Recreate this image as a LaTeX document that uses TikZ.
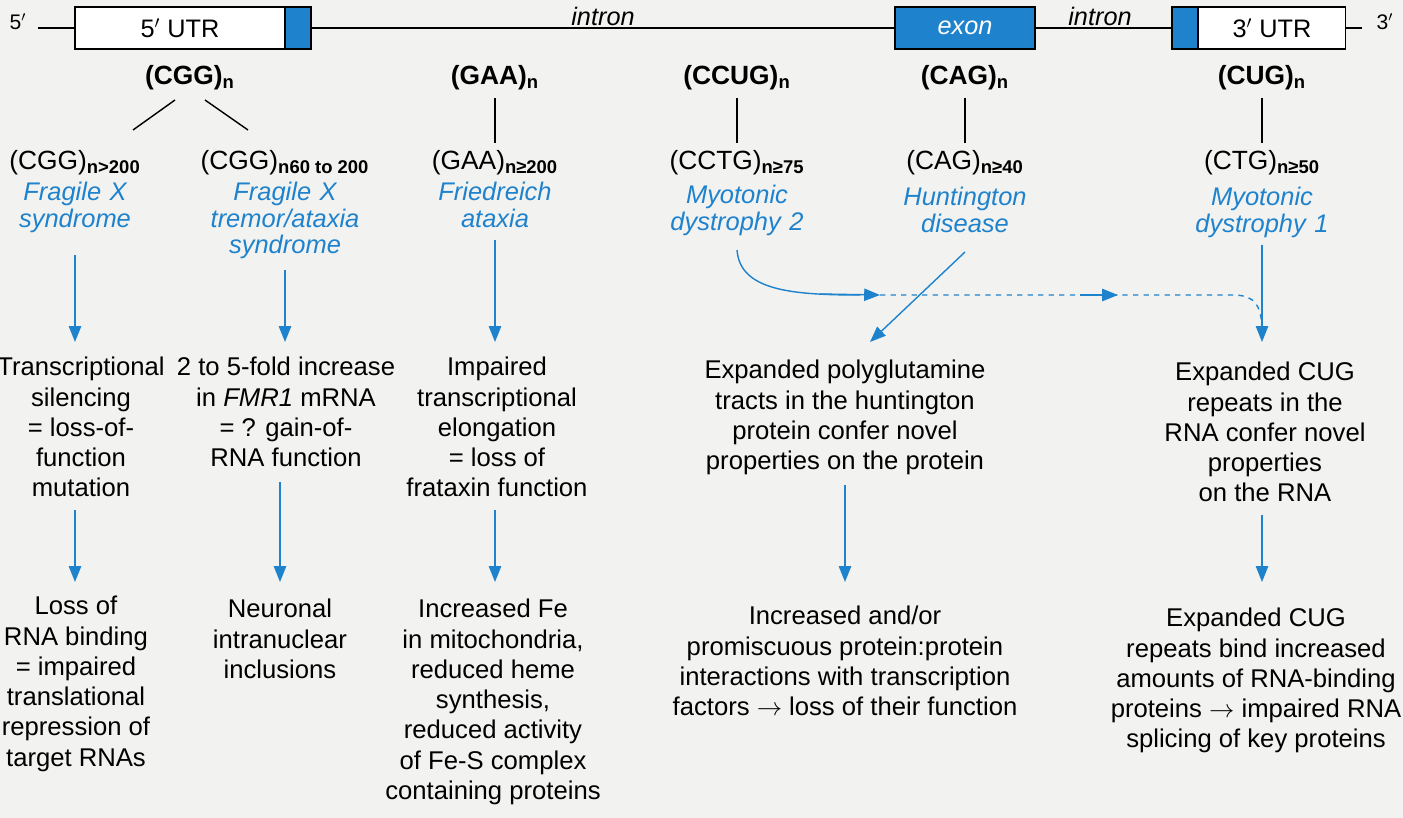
\documentclass[tikz,border=0pt]{standalone}
\usepackage{fontspec}
\setmainfont{Liberation Sans}
\usetikzlibrary{positioning,arrows.meta,calc}
\definecolor{rblue}{RGB}{30,130,205}
\definecolor{paper}{RGB}{242,242,240}
\newcommand{\rsub}[1]{\textsubscript{\bfseries #1}}
\tikzset{
  box/.style={draw, thick, minimum height=0.84cm, inner sep=0pt},
  rep/.style={font=\bfseries\fontsize{15}{18}\selectfont, inner sep=1pt},
  rep2/.style={font=\fontsize{15}{18}\selectfont, inner sep=1pt},
  dis/.style={text=rblue, font=\fontsize{14.5}{15}\selectfont\itshape, align=center, text width=3.6cm, inner sep=0pt},
  eff/.style={font=\fontsize{14.6}{17.2}\selectfont, align=center, inner sep=0pt},
  blu/.style={draw=rblue, thick, -{Triangle[length=9pt,width=7pt]}},
  ln/.style={draw, thick}
}
\begin{document}
\begin{tikzpicture}[x=0.02cm,y=-0.02cm]
\useasboundingbox[fill=paper] (0,0) rectangle (1403,818);
% gene bar
\node (p5) at (18,22) {\large 5$'$};
\node (p3) at (1385,22) {\large 3$'$};
\draw[ln] (38,28) -- (1362,28);
\node[box, fill=white, minimum width=4.2cm] (utr5) at (180,28) {\Large 5$'$ UTR};
\node[box, fill=rblue, minimum width=0.52cm] (b1) at (298,28) {};
\node[box, fill=rblue, minimum width=2.8cm, text=white] (exon) at (965,28) {\Large\itshape exon};
\node[box, fill=rblue, minimum width=0.52cm] (b2) at (1185,28) {};
\node[box, fill=white, minimum width=2.94cm] (utr3) at (1272,28) {\Large 3$'$ UTR};
\node[font=\Large\itshape] (in1) at (603,16) {intron};
\node[font=\Large\itshape] (in2) at (1100,16) {intron};
% repeats
\node[rep] (cgg) at (190,78) {(CGG)\rsub{n}};
\node[rep] (gaa) at (495,78) {(GAA)\rsub{n}};
\node[rep] (ccug) at (737,78) {(CCUG)\rsub{n}};
\node[rep] (cag) at (965,78) {(CAG)\rsub{n}};
\node[rep] (cug) at (1262,78) {(CUG)\rsub{n}};
\node[rep2] (cgg1) at (75,163) {(CGG)\rsub{n>200}};
\node[rep2] (cgg2) at (285,163) {(CGG)\rsub{n60 to 200}};
\node[rep2] (gaa1) at (495,163) {(GAA)\rsub{n≥200}};
\node[rep2] (ccug1) at (737,163) {(CCTG)\rsub{n≥75}};
\node[rep2] (cag1) at (965,163) {(CAG)\rsub{n≥40}};
\node[rep2] (cug1) at (1262,163) {(CTG)\rsub{n≥50}};
\draw[ln] (175,100) -- (133,130);
\draw[ln] (205,100) -- (248,130);
\foreach \a/\b in {gaa/gaa1, ccug/ccug1, cag/cag1, cug/cug1}
  \draw[ln] ($(\a.south)+(0,6)$) -- ($(\b.north)+(0,-6)$);
% diseases
\node[dis, anchor=north] (d1) at (75,182) {Fragile X\\syndrome};
\node[dis, anchor=north] (d2) at (285,182) {Fragile X\\tremor/ataxia\\syndrome};
\node[dis, anchor=north] (d3) at (495,182) {Friedreich\\ataxia};
\node[dis, anchor=north] (d4) at (737,185) {Myotonic\\dystrophy 2};
\node[dis, anchor=north] (d5) at (965,187) {Huntington\\disease};
\node[dis, anchor=north] (d6) at (1262,187) {Myotonic\\dystrophy 1};
% mechanisms
\node[eff, anchor=north] (m1) at (81,357) {Transcriptional\\silencing\\= loss-of-\\function\\mutation};
\node[eff, anchor=north] (m2) at (286,357) {2 to 5-fold increase\\in \textit{FMR1} mRNA\\= ? gain-of-\\RNA function};
\node[eff, anchor=north] (m3) at (497,357) {Impaired\\transcriptional\\elongation\\= loss of\\frataxin function};
\node[eff, anchor=north] (m4) at (845,360) {Expanded polyglutamine\\tracts in the huntington\\protein confer novel\\properties on the protein};
\node[eff, anchor=north] (m5) at (1265,362) {Expanded CUG\\repeats in the\\RNA confer novel\\properties\\on the RNA};
% outcomes
\node[eff, anchor=north] (o1) at (76,596) {Loss of\\RNA binding\\= impaired\\translational\\repression of\\target RNAs};
\node[eff, anchor=north] (o2) at (280,599) {Neuronal\\intranuclear\\inclusions};
\node[eff, anchor=north] (o3) at (493,599) {Increased Fe\\in mitochondria,\\reduced heme\\synthesis,\\reduced activity\\of Fe-S complex\\containing proteins};
\node[eff, anchor=north] (o4) at (845,606) {Increased and/or\\promiscuous protein:protein\\interactions with transcription\\factors $\to$ loss of their function};
\node[eff, anchor=north] (o5) at (1256,608) {Expanded CUG\\repeats bind increased\\amounts of RNA-binding\\proteins $\to$ impaired RNA\\splicing of key proteins};
% arrows
\draw[blu] (75,255) -- (75,342);
\draw[blu] (285,270) -- (285,342);
\draw[blu] (495,240) -- (495,342);
\draw[blu] (1262,245) -- (1262,342);
\draw[blu] (965,252) -- (870,342);
\draw[draw=rblue, thick] (737,250) .. controls (740,290) and (790,295) .. (860,295);
\draw[blu] (820,294) -- (880,295);
\draw[draw=rblue, thick, dashed] (880,295) -- (1235,295) .. controls (1255,296) and (1260,305) .. (1262,325);
\draw[blu] (1080,295) -- (1118,295);
\draw[blu] (75,510) -- (75,582);
\draw[blu] (280,482) -- (280,582);
\draw[blu] (495,510) -- (495,582);
\draw[blu] (845,485) -- (845,582);
\draw[blu] (1262,515) -- (1262,582);
\end{tikzpicture}
\end{document}
